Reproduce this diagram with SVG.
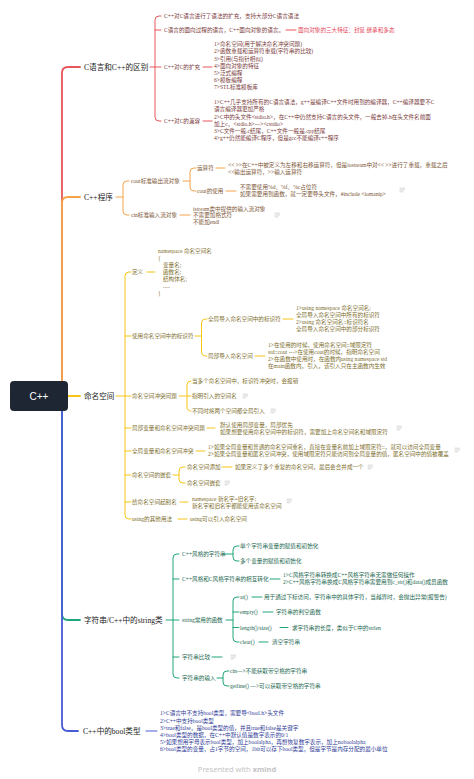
<svg xmlns="http://www.w3.org/2000/svg" xmlns:xlink="http://www.w3.org/1999/xlink" width="474" height="779" viewBox="0 0 474 779">
<style>
text{font-family:"Liberation Serif","Noto Sans CJK SC",serif;dominant-baseline:central}
.t{font-size:5.6px}
.m{font-size:7.6px;fill:#1a1a1a}
.r{fill:#7a3b3b}.o{fill:#7c5636}.y{fill:#7d6e2c}.g{fill:#23684f}.b{fill:#2e3a96}
.hl{fill:#e5475a}
path{fill:none;stroke-linecap:round;stroke-linejoin:round}
.lr{stroke:#e8565a}.lo{stroke:#f5a44a}.ly{stroke:#f5c518}.lg{stroke:#1fa67c}.lb{stroke:#4a5bd8}
.w1{stroke-width:1}.w2{stroke-width:1.8}
.nt{stroke:#b8b8b8;stroke-width:.6}
</style>
<defs>
<g id="note"><path class="nt" d="M0,-1.8 h4.5 M0,0 h4.5 M0,1.8 h2.8"/></g>
</defs>
<rect width="474" height="779" fill="#ffffff"/>
<g id="connectors">
<!-- root -->
<path class="lr w2" d="M62,381 V73 Q62,67 68,67 H80"/>
<path class="lo w2" d="M62,381 V203 Q62,197 68,197 H80"/>
<path class="ly w2" d="M68,396 H80"/>
<path class="lg w2" d="M62,411 V614 Q62,620 68,620 H80"/>
<path class="lb w2" d="M62,411 V725 Q62,731 68,731 H78"/>
<!-- red -->
<path class="lr w1" d="M161,16 H159 Q155,16 155,20 V117 Q155,121 159,121 H161 M155,30 H161 M150,67 H161"/>
<path class="lr w1" d="M286,30 H296 M203,67 H212 M203,121 H212"/>
<!-- orange -->
<path class="lo w1" d="M116,197 H123 M129,181 H127 Q123,181 123,185 V211 Q123,215 127,215 H129"/>
<path class="lo w1" d="M183,181 H190 M196,168 H194 Q190,168 190,172 V187 Q190,191 194,191 H196"/>
<path class="lo w1" d="M216,168 H225 M226,191 H236 M180,215 H190"/>
<!-- yellow -->
<path class="ly w1" d="M116,396 H131 M131,272 H129 Q125,272 125,276 V515 Q125,519 129,519 H131 M125,336 H131 M125,428 H131 M125,451 H131 M125,475 H131 M125,502 H131"/>
<path class="ly w1" d="M147,272 H155"/>
<path class="ly w1" d="M195,336 H201.5 M207,319 H205.5 Q201.5,319 201.5,323 V352 Q201.5,356 205.5,356 H207 M283,319 H293 M255,356 H265"/>
<path class="ly w1" d="M179,396 H191 M191,381 H191 Q187,381 187,385 V407 Q187,411 191,411"/>
<path class="ly w1" d="M207,428 H215 M196,451 H205"/>
<path class="ly w1" d="M173,475 H179 M185,467 H183 Q179,467 179,471 V479 Q179,483 183,483 H185 M222,467 H232"/>
<path class="ly w1" d="M180,502 H188 M178,519 H187"/>
<!-- green -->
<path class="lg w1" d="M166,620 H173 M179,554 H177 Q173,554 173,558 V674 Q173,678 177,678 H179 M173,579 H179 M173,620 H179 M173,657 H179"/>
<path class="lg w1" d="M223,554 H233 M239,546 H237 Q233,546 233,550 V557 Q233,561 237,561 H239"/>
<path class="lg w1" d="M270,579 H280"/>
<path class="lg w1" d="M226,620 H233 M239,597 H237 Q233,597 233,601 V638 Q233,642 237,642 H239 M233,612 H239 M233,627.5 H239"/>
<path class="lg w1" d="M252,597 H262 M263,612 H273 M280,627.5 H288 M259,642 H268"/>
<path class="lg w1" d="M212,657 H222 M217,678 H223 M229,671 H227 Q223,671 223,675 V682 Q223,686 227,686 H229"/>
<!-- blue -->
<path class="lb w1" d="M146,731 H157"/>
</g>

<g id="root">
<rect x="10" y="381" width="58" height="30" rx="4" fill="#1f2633"/>
<text x="39" y="396" text-anchor="middle" style="font-family:'Liberation Sans','Noto Sans CJK SC',sans-serif;font-size:10px;fill:#fff">C++</text>
</g>

<g id="n-diff">
<text class="m" x="84" y="67">C语言和C++的区别</text>
<text class="t r" x="164" y="16">C++对C语言进行了语法的扩充，支持大部分C语言语法</text>
<text class="t r" x="164" y="30">C语言的面向过程的语言，C++面向对象的语言。</text>
<text class="t hl" x="298" y="30">面向对象的三大特征：封装 继承和多态</text>
<text class="t r" x="164" y="67">C++对C的扩充</text>
<text class="t r" x="214" y="44.2">1&gt;命名空间(用于解决命名冲突问题)</text>
<text class="t r" x="214" y="51.4">2&gt;函数重载和运算符重载(字符串的比较)</text>
<text class="t r" x="214" y="58.6">3&gt;引用(与指针相似)</text>
<text class="t r" x="214" y="65.8">4&gt;面向对象的特征</text>
<text class="t r" x="214" y="73">5&gt;泛式编程</text>
<text class="t r" x="214" y="80.2">6&gt;模板编程</text>
<text class="t r" x="214" y="87.4">7&gt;STL标准模板库</text>
<text class="t r" x="164" y="121">C++对C的兼容</text>
<text class="t r" x="214" y="102.3">1&gt;C++几乎支持所有的C语言语法，g++是编译C++文件时用到的编译器，C++编译器要不C</text>
<text class="t r" x="214" y="109.4">语言编译器更加严格</text>
<text class="t r" x="214" y="116.5">2&gt;C中的头文件&lt;stdio.h&gt;，在C++中仍然支持C语言的头文件，一般去掉.h在头文件名前面</text>
<text class="t r" x="214" y="123.6">加上c，&lt;stdio.h&gt;---&gt;&lt;cstdio&gt;</text>
<text class="t r" x="214" y="130.7">3&gt;C文件一般.c结尾，C++文件一般是.cpp结尾</text>
<text class="t r" x="214" y="137.8">4&gt;g++仍然能编译C程序，但是gcc不能编译c++程序</text>
</g>

<g id="n-prog">
<text class="m" x="84" y="197">C++程序</text>
<text class="t o" x="131" y="181">cout标准输出流对象</text>
<text class="t o" x="197" y="168">运算符</text>
<text class="t o" x="228" y="164.5">&lt;&lt;  &gt;&gt;在C++中被定义为左移和右移运算符，但是iostream中对&lt;&lt; &gt;&gt;进行了重载，重载之后</text>
<text class="t o" x="228" y="171.7">&lt;&lt;输出运算符，&gt;&gt;输入运算符</text>
<text class="t o" x="197" y="191">cout的使用</text>
<text class="t o" x="240" y="187">不需要使用%d、%f、%c占位符</text>
<text class="t o" x="240" y="194.3">如果需要用到函数，就一定要导头文件，#include &lt;iomanip&gt;</text>
<use href="#note" x="400" y="190"/>
<text class="t o" x="131" y="215">cin标准输入流对象</text>
<text class="t o" x="193" y="209">istream类中提供的输入流对象</text>
<text class="t o" x="193" y="215.3">不需要加格式符</text>
<text class="t o" x="193" y="221.6">不能加endl</text>
<use href="#note" x="275" y="215"/>
</g>

<g id="n-ns">
<text class="m" x="84" y="396">命名空间</text>
<text class="t y" x="132" y="272">定义</text>
<text class="t y" x="158" y="250.7">namespace 命名空间名</text>
<text class="t y" x="158" y="257.8">{</text>
<text class="t y" x="163" y="264.9">变量名;</text>
<text class="t y" x="163" y="272">函数名;</text>
<text class="t y" x="163" y="279.1">结构体名;</text>
<text class="t y" x="163" y="286.2">.....</text>
<text class="t y" x="158" y="293.3">}</text>
<text class="t y" x="132" y="336">使用命名空间中的标识符</text>
<text class="t y" x="208" y="319">全局导入命名空间中的标识符</text>
<text class="t y" x="296" y="307.7">1&gt;using namespace 命名空间名;</text>
<text class="t y" x="296" y="314.8">全局导入命名空间中所有的标识符</text>
<text class="t y" x="296" y="321.9">2&gt;using 命名空间名::标识符名</text>
<text class="t y" x="296" y="329">全局导入命名空间中的部分标识符</text>
<text class="t y" x="208" y="356">局部导入命名空间</text>
<text class="t y" x="268" y="344.5">1&gt;在使用的时候，使用命名空间::域限定符</text>
<text class="t y" x="268" y="351.6">std::cout    ---&gt;在使用cout的时候，指明命名空间</text>
<text class="t y" x="268" y="358.7">2&gt;在函数中使用时，在函数内using namespace std</text>
<text class="t y" x="268" y="365.8">在main函数内，引入，该引入只在主函数内生效</text>
<text class="t y" x="132" y="396">命名空间冲突问题</text>
<text class="t y" x="192" y="381">当多个命名空间中，标识符冲突时，会报错</text>
<text class="t y" x="192" y="396">指明引入的空间名</text>
<use href="#note" x="243" y="396"/>
<text class="t y" x="192" y="411">不同时将两个空间都全局引入</text>
<use href="#note" x="271" y="411"/>
<text class="t y" x="132" y="428">局部变量和命名空间冲突问题</text>
<text class="t y" x="220" y="424.5">默认使用局部变量，局部优先</text>
<text class="t y" x="220" y="431.8">如果想要使用命名空间中的标识符，需要加上命名空间名和域限定符</text>
<use href="#note" x="397" y="428"/>
<text class="t y" x="132" y="451">全局变量和命名空间冲突</text>
<text class="t y" x="208" y="447.2">1&gt;如果全局变量和普通的命名空间重名，直接在变量名前加上域限定符::，就可以访问全局变量</text>
<text class="t y" x="208" y="454.3">2&gt;如果全局变量和匿名空间冲突，使用域限定符只能访问到全局变量的值，匿名空间中的值被覆盖</text>
<use href="#note" x="455" y="450"/>
<text class="t y" x="132" y="475">命名空间的嵌套</text>
<text class="t y" x="187" y="467">命名空间添加</text>
<text class="t y" x="235" y="467">如果定义了多个重复的命名空间，最后会合并成一个</text>
<use href="#note" x="368" y="467"/>
<text class="t y" x="187" y="483">命名空间嵌套</text>
<use href="#note" x="225" y="483"/>
<text class="t y" x="132" y="502">给命名空间起别名</text>
<text class="t y" x="192" y="498.5">namespace 新名字=旧名字;</text>
<text class="t y" x="192" y="505.6">新名字和旧名字都能使用该命名空间</text>
<use href="#note" x="287" y="501"/>
<text class="t y" x="132" y="519">using的其他用法</text>
<text class="t y" x="190" y="519">using可以引入命名空间</text>
</g>

<g id="n-str">
<text class="m" x="84" y="620">字符串/C++中的string类</text>
<text class="t g" x="182" y="554">C++风格的字符串</text>
<text class="t g" x="240" y="546">单个字符串变量的赋值和初始化</text>
<text class="t g" x="240" y="561">多个变量的赋值和初始化</text>
<text class="t g" x="182" y="579">C++风格和C风格字符串的相互转化</text>
<text class="t g" x="283" y="574.5">1&gt;C风格字符串转换成C++风格字符串无需做任何操作</text>
<text class="t g" x="283" y="582">2&gt;C++风格字符串换成C风格字符串需要用到c_str()和data()成员函数</text>
<text class="t g" x="182" y="620">string常用的函数</text>
<text class="t g" x="240" y="597">at()</text>
<text class="t g" x="264" y="597">用于通过下标访问，字符串中的具体字符，当越界时，会抛出异常(报警告)</text>
<text class="t g" x="240" y="612">empty()</text>
<text class="t g" x="276" y="612">字符串的判空函数</text>
<text class="t g" x="240" y="627.5">length()/size()</text>
<text class="t g" x="292" y="627.5">求字符串的长度，类似于C中的strlen</text>
<text class="t g" x="240" y="642">clear()</text>
<text class="t g" x="272" y="642">清空字符串</text>
<text class="t g" x="182" y="657">字符串比较</text>
<use href="#note" x="231" y="657"/>
<text class="t g" x="182" y="678">字符串的输入</text>
<text class="t g" x="230" y="671">cin---&gt;不能获取带空格的字符串</text>
<text class="t g" x="230" y="686">getline()  ---&gt;可以获取带空格的字符串</text>
</g>

<g id="n-bool">
<text class="m" x="83" y="731">C++中的bool类型</text>
<text class="t b" x="160" y="713.3">1&gt;C语言中不支持bool类型，需要导&lt;bool.h&gt;头文件</text>
<text class="t b" x="160" y="720.5">2&gt;C++中支持bool类型</text>
<text class="t b" x="160" y="727.6">3&gt;true和false，是bool类型的值，并且true和false是关键字</text>
<text class="t b" x="160" y="734.8">4&gt;bool类型的数据，在C++中默认值是数字表示的0/1</text>
<text class="t b" x="160" y="741.9">5&gt;如果想用字母表示bool类型，加上boolalpha，再想恢复数字表示，加上noboolalpha</text>
<text class="t b" x="160" y="749.1">6&gt;bool类型的变量，占1字节的空间，1bit可以存下bool类型，但是字节是内存分配的最小单位</text>
</g>

<g id="footer">
<text x="237" y="769" text-anchor="middle" style="font-family:'Noto Sans','Liberation Sans',sans-serif;font-size:7.5px;fill:#c4c4c4">Presented with <tspan font-weight="bold">xmind</tspan></text>
</g>
</svg>
